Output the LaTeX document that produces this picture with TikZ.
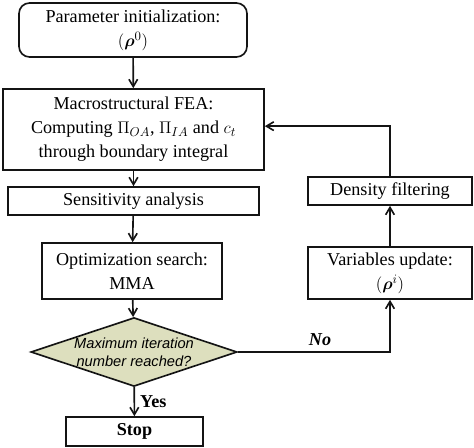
\documentclass[tikz,border=0pt]{standalone}
\usepackage{amsmath,bm}
\usepackage{fontspec}
\setmainfont{Liberation Serif}
\newfontfamily\arialfont{Liberation Sans}
\usetikzlibrary{arrows.meta,shapes.geometric}
\definecolor{khaki}{RGB}{221,223,190}
\definecolor{ink}{RGB}{20,20,20}
\tikzset{
  >={Straight Barb[length=2.2mm,width=2.6mm]},
  stepbox/.style={draw=ink,line width=1.4pt,align=center,inner sep=0pt,
    font=\fontsize{15.5}{20.5}\selectfont},
  decision/.style={diamond,draw=ink,line width=1.4pt,fill=khaki,aspect=3,inner sep=0pt,
    align=center,font=\arialfont\itshape\fontsize{12.5}{15.5}\selectfont},
  flow/.style={->,line width=1.4pt,draw=ink},
  tag/.style={font=\bfseries\fontsize{15.5}{18}\selectfont},
}
\begin{document}
\begin{tikzpicture}[x=0.03cm,y=-0.03cm]
  \useasboundingbox (0,0) rectangle (474,448);
  % main column
  \node[stepbox,rounded corners=9pt,minimum width=228*0.03cm,minimum height=54*0.03cm]
    (init) at (133,30) {Parameter initialization:\\$(\bm{\rho}^0)$};
  \node[stepbox,minimum width=261*0.03cm,minimum height=81*0.03cm] (fea) at (133.5,129.5)
    {Macrostructural FEA:\\Computing $\Pi_{OA}$, $\Pi_{IA}$ and $c_t$\\through boundary integral};
  \node[stepbox,minimum width=251*0.03cm,minimum height=28*0.03cm] (sens) at (133.5,201)
    {Sensitivity analysis};
  \node[stepbox,minimum width=180*0.03cm,minimum height=56*0.03cm] (opt) at (132,271)
    {Optimization search:\\MMA};
  \node[decision] (check) at (134,352) {Maximum iteration\\number reached?};
  \node[stepbox,font=\bfseries\fontsize{15.5}{18}\selectfont,minimum width=137*0.03cm,
    minimum height=29*0.03cm] (stop) at (134.5,431.5) {Stop};
  % loop column
  \node[stepbox,minimum width=164*0.03cm,minimum height=52*0.03cm] (upd) at (390,273)
    {Variables update:\\$(\bm{\rho}^i)$};
  \node[stepbox,minimum width=164*0.03cm,minimum height=28*0.03cm] (filt) at (390,191)
    {Density filtering};
  % connectors
  \draw[flow] (init) -- (fea);
  \draw[flow] (fea) -- (sens);
  \draw[flow] (sens) -- (opt);
  \draw[flow] (opt) -- (check);
  \draw[flow] (check) -- node[tag,right=1pt] {Yes} (stop);
  \draw[flow] (check.east) -| node[tag,pos=0.27,above=1pt] {\itshape No} (upd.south);
  \draw[flow] (upd) -- (filt);
  \draw[flow] (filt.north) |- ([yshift=0.1cm]fea.east);
\end{tikzpicture}
\end{document}
